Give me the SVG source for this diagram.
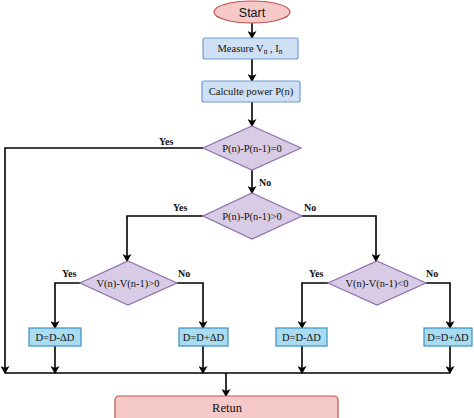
<svg xmlns="http://www.w3.org/2000/svg" width="474" height="418" viewBox="0 0 474 418">
<defs>
<marker id="ah" markerWidth="8" markerHeight="9" refX="7" refY="4.5" orient="auto" markerUnits="userSpaceOnUse">
<path d="M0,0 L8,4.5 L0,9 L2,4.5 Z" fill="#000"/>
</marker>
<style>
.t{font-family:"Liberation Serif","Times New Roman",serif;font-size:10.5px;fill:#111;text-anchor:middle}
.lb{font-family:"Liberation Serif","Times New Roman",serif;font-size:10px;font-weight:bold;fill:#111}
.pb{fill:#cfe0f4;stroke:#6f9cd6;stroke-width:1.2}
.db{fill:#d8cbe5;stroke:#8e6fae;stroke-width:1.2}
.ob{fill:#a9dcf0;stroke:#3a8fc6;stroke-width:1.2}
.rb{fill:#f5c9c8;stroke:#c3504e;stroke-width:1.2}
.c{fill:none;stroke:#000;stroke-width:1.6}
.ca{fill:none;stroke:#000;stroke-width:1.6;marker-end:url(#ah)}
</style>
</defs>
<rect width="474" height="418" fill="#fff"/>
<g id="connectors">
<line class="ca" x1="252" y1="23" x2="252" y2="38"/>
<line class="ca" x1="252" y1="59" x2="252" y2="81"/>
<line class="ca" x1="252" y1="102" x2="252" y2="126"/>
<line class="ca" x1="252" y1="170" x2="252" y2="193"/>
<polyline class="ca" points="203,148 5,148 5,373"/>
<polyline class="ca" points="203,216 127,216 127,261"/>
<polyline class="ca" points="302,216 376,216 376,261"/>
<polyline class="ca" points="80,283 55,283 55,328"/>
<polyline class="ca" points="177,283 203,283 203,328"/>
<polyline class="ca" points="328,283 302,283 302,328"/>
<polyline class="ca" points="426,283 450,283 450,328"/>
<line class="ca" x1="55" y1="346" x2="55" y2="373"/>
<line class="ca" x1="203" y1="346" x2="203" y2="373"/>
<line class="ca" x1="302" y1="346" x2="302" y2="373"/>
<line class="ca" x1="450" y1="346" x2="450" y2="373"/>
<line class="c" x1="5" y1="373" x2="450" y2="373"/>
<line class="ca" x1="226" y1="373" x2="226" y2="396"/>
<text class="lb" x="159" y="145">Yes</text>
<text class="lb" x="259" y="186">No</text>
<text class="lb" x="173" y="211">Yes</text>
<text class="lb" x="304" y="211">No</text>
<text class="lb" x="62" y="277">Yes</text>
<text class="lb" x="178" y="277">No</text>
<text class="lb" x="309" y="277">Yes</text>
<text class="lb" x="426" y="277">No</text>
</g>
<g id="start">
<ellipse cx="252" cy="12" rx="38" ry="11" class="rb"/>
<text x="252" y="16.5" style="font-family:'Liberation Sans',Arial,sans-serif;font-size:12.5px;fill:#111;text-anchor:middle">Start</text>
</g>
<g id="measure">
<rect x="203" y="38" width="95" height="21" rx="2" class="pb"/>
<text class="t" x="250" y="52">Measure V<tspan font-size="7.5" dy="2">n</tspan><tspan dy="-2"> , I</tspan><tspan font-size="7.5" dy="2">n</tspan></text>
</g>
<g id="calc">
<rect x="202" y="81" width="98" height="21" rx="2" class="pb"/>
<text class="t" x="251" y="95">Calculte power P(n)</text>
</g>
<g id="d1">
<polygon points="252,126 301,148 252,170 203,148" class="db"/>
<text class="t" x="252" y="151.5">P(n)-P(n-1)=0</text>
</g>
<g id="d2">
<polygon points="252,193 302,216 252,239 203,216" class="db"/>
<text class="t" x="252" y="219.5">P(n)-P(n-1)&gt;0</text>
</g>
<g id="d3">
<polygon points="128,261 177,283 128,305 80,283" class="db"/>
<text class="t" x="128" y="286.5">V(n)-V(n-1)&gt;0</text>
</g>
<g id="d4">
<polygon points="377,261 426,283 377,305 328,283" class="db"/>
<text class="t" x="377" y="286.5">V(n)-V(n-1)&lt;0</text>
</g>
<g id="b1">
<rect x="29" y="328" width="52" height="18" class="ob"/>
<text class="t" x="55" y="340.5">D=D-ΔD</text>
</g>
<g id="b2">
<rect x="179" y="328" width="49" height="18" class="ob"/>
<text class="t" x="203.5" y="340.5">D=D+ΔD</text>
</g>
<g id="b3">
<rect x="276" y="328" width="51" height="18" class="ob"/>
<text class="t" x="301.5" y="340.5">D=D-ΔD</text>
</g>
<g id="b4">
<rect x="424" y="328" width="48" height="18" class="ob"/>
<text class="t" x="448" y="340.5">D=D+ΔD</text>
</g>
<g id="return">
<rect x="115" y="396" width="223" height="30" rx="4" class="rb"/>
<text class="t" x="227" y="412" style="font-size:12.5px">Retun</text>
</g>
</svg>
